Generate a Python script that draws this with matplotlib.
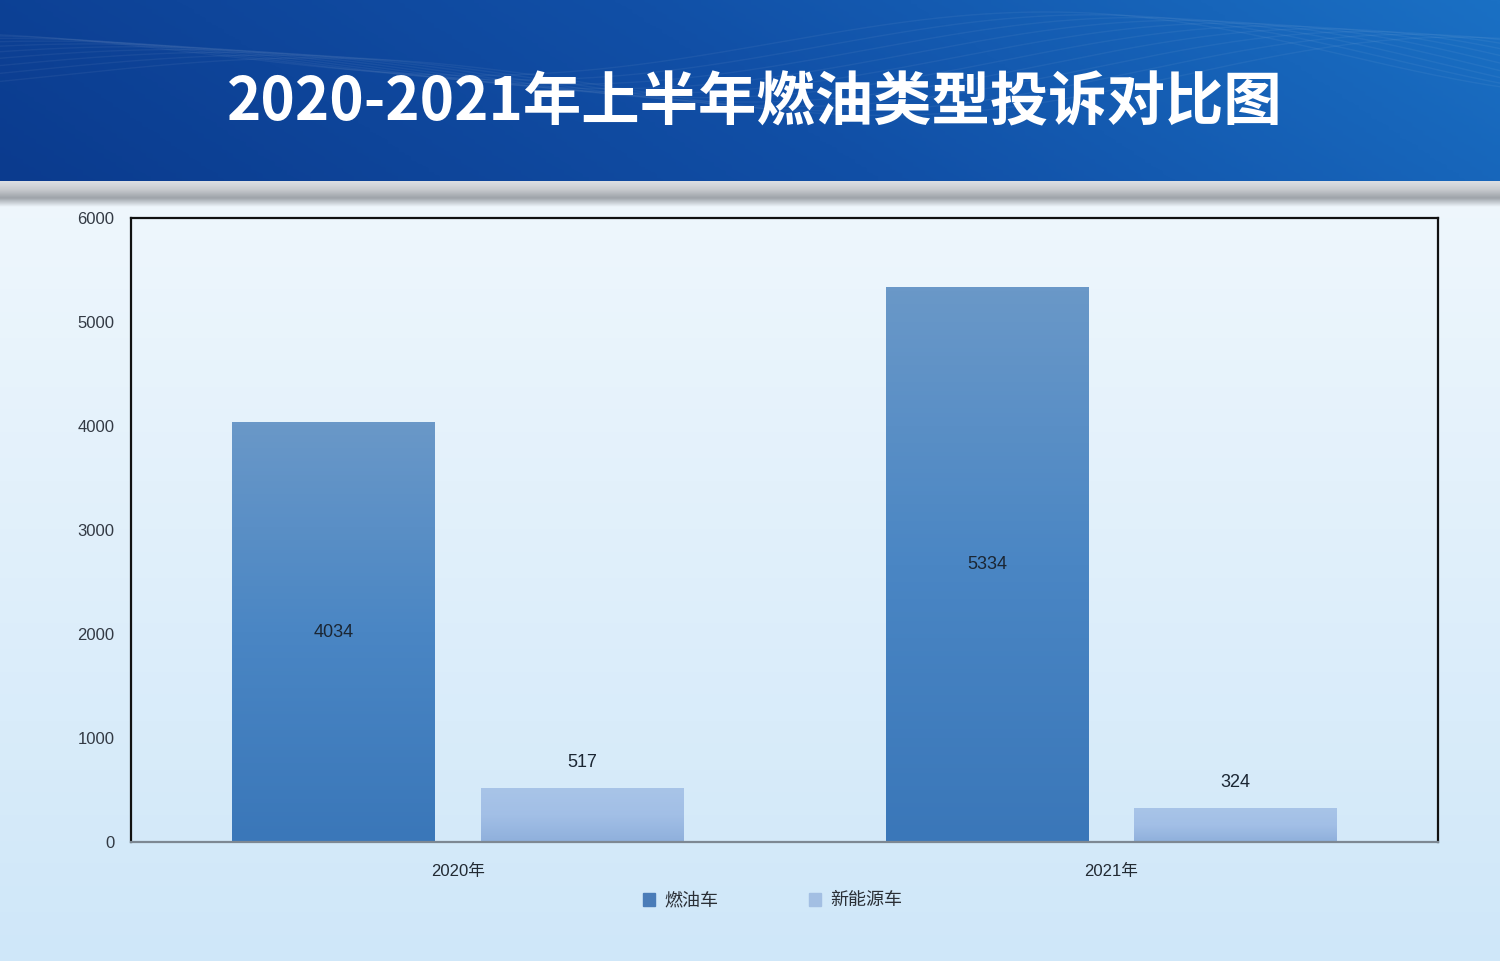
import numpy as np
import matplotlib
matplotlib.use("Agg")
import matplotlib.pyplot as plt
from matplotlib.colors import LinearSegmentedColormap
from matplotlib.patches import Patch

plt.rcParams['font.family'] = ['Liberation Sans', 'Noto Sans CJK SC']

TITLE      = "2020-2021年上半年燃油类型投诉对比图"
YEARS      = ["2020年", "2021年"]
SERIES     = ["燃油车", "新能源车"]
FUEL       = [4034, 5334]
NEV        = [517, 324]
YTICKS     = [0, 1000, 2000, 3000, 4000, 5000, 6000]

W, H = 1500, 961
fig = plt.figure(figsize=(W/100, H/100), dpi=100)

# ── background ───────────────────────────────────────────────────────────────
bg = fig.add_axes([0, 0, 1, 1], zorder=-10)
bg_cmap = LinearSegmentedColormap.from_list("bg", ["#cfe7f9", "#e3f1fb", "#f7fbfe"])
bg.imshow(np.linspace(0, 1, 256)[:, None], aspect="auto", cmap=bg_cmap,
          origin="lower", extent=[0, 1, 0, 1])
bg.axis("off")

# header banner
hd = fig.add_axes([0, 1-181/H, 1, 181/H], zorder=-5)
hd_cmap = LinearSegmentedColormap.from_list("hd", ["#0b3b8e", "#114fa6", "#1a70c4"])
gx = np.linspace(0, 1, 256)[None, :]
gy = np.linspace(0, 1, 64)[:, None]
hd.imshow(gx*0.85 + gy*0.15, aspect="auto", cmap=hd_cmap, extent=[0, 1, 0, 1], origin="lower")
t = np.linspace(0, 1, 300)
for k in range(10):
    hd.plot(t, 0.55 + 0.25*np.sin(2.6*np.pi*t + k*0.25) * (0.4 + 0.6*t) + 0.02*k,
            color="white", alpha=0.05, lw=1)
hd.set_xlim(0, 1); hd.set_ylim(0, 1)
hd.axis("off")
hd.text(0.503, 0.43, TITLE, color="white", fontsize=42, fontweight="bold",
        ha="center", va="center", family=["Noto Sans CJK SC"])

# shadow strip under the banner
sh = fig.add_axes([0, 1-207/H, 1, 27/H], zorder=-6)
sh_cmap = LinearSegmentedColormap.from_list("sh", ["#eef5fb", "#9ea3a9", "#c9ccd0", "#dfe2e6"])
sh.imshow(np.linspace(0, 1, 64)[:, None], aspect="auto", cmap=sh_cmap,
          origin="lower", extent=[0, 1, 0, 1])
sh.axis("off")

# ── chart ────────────────────────────────────────────────────────────────────
ax = fig.add_axes([131/W, 1-842/H, (1438-131)/W, (842-218)/H])
ax.set_facecolor("none")

x = np.arange(len(YEARS))
w, off = 0.31, 0.19
fuel_cmap = LinearSegmentedColormap.from_list("f", ["#3a77b9", "#4a86c4", "#6a98c8"])
nev_cmap  = LinearSegmentedColormap.from_list("n", ["#8fb0dc", "#a2bfe6", "#a8c4e8"])

bars_f = ax.bar(x - off, FUEL, w, color="none", edgecolor="none")
bars_n = ax.bar(x + off, NEV, w, color="none", edgecolor="none")
grad = np.linspace(0, 1, 128)[:, None]
for bars, cm in ((bars_f, fuel_cmap), (bars_n, nev_cmap)):
    for b in bars:
        im = ax.imshow(grad, aspect="auto", cmap=cm, origin="lower",
                       extent=[b.get_x(), b.get_x()+b.get_width(), 0, b.get_height()], zorder=2)
        im.set_clip_path(b)

for b, v in zip(bars_f, FUEL):
    ax.text(b.get_x()+b.get_width()/2, v/2, str(v), ha="center", va="center",
            fontsize=13, color="#1b2633", zorder=3)
for b, v in zip(bars_n, NEV):
    ax.text(b.get_x()+b.get_width()/2, v + 250, str(v), ha="center", va="center",
            fontsize=13, color="#1b2633", zorder=3)

ax.set_xlim(-0.5, 1.5)
ax.set_ylim(0, 6000)
ax.set_yticks(YTICKS)
ax.set_yticklabels([str(v) for v in YTICKS], fontsize=12, color="#333a44")
ax.set_xticks(x)
ax.set_xticklabels(YEARS, fontsize=12, color="#222a33")
ax.tick_params(axis="y", length=0, pad=12)
ax.tick_params(axis="x", length=0, pad=16)
for s in ("top", "right", "left"):
    ax.spines[s].set_color("#111111"); ax.spines[s].set_linewidth(1.6)
ax.spines["bottom"].set_color("#7d8893"); ax.spines["bottom"].set_linewidth(1.6)

handles = [Patch(color="#4a7cb8"), Patch(color="#a3bfe3")]
fig.legend(handles, SERIES, loc="center", bbox_to_anchor=(0.515, 1-901/H), ncol=2,
           frameon=False, fontsize=13, handlelength=0.7, handleheight=0.7,
           handletextpad=0.5, columnspacing=5.0, labelcolor="#2a2f36")

fig.savefig("out.png", dpi=100)
